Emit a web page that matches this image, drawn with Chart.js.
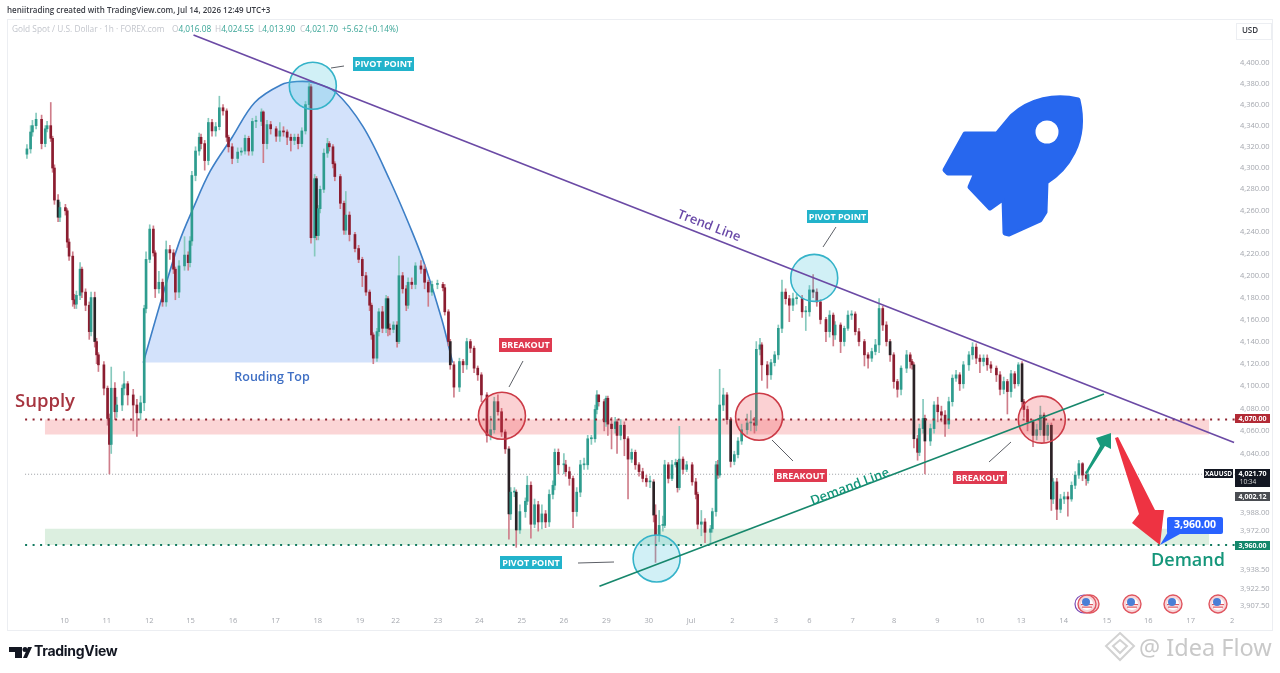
<!DOCTYPE html>
<html>
<head>
<meta charset="utf-8">
<title>XAUUSD</title>
<script src="https://cdn.jsdelivr.net/npm/chart.js@4"></script>
<style>
  html, body { margin: 0; background: #fff; }
  #wrap { position: relative; width: 1280px; height: 673px; overflow: hidden; font-family: "Open Sans", sans-serif; }
  #grafica { position: absolute; left: 0; top: 0; filter: blur(0.35px); }
  .txt { position: absolute; white-space: nowrap; }
</style>
</head>
<body>
<div id="wrap">
  <canvas id="grafica" width="1280" height="673"></canvas>
  <div class="txt" style="left:7px;top:4px;font-size:8px;font-weight:600;color:#3a3d45">heniitrading created with TradingView.com, Jul 14, 2026 12:49 UTC+3</div>
  <div class="txt" style="left:12px;top:23px;font-size:8.3px;color:#c2c5cc">Gold Spot / U.S. Dollar · 1h · FOREX.com</div>
  <div class="txt" style="left:172px;top:23px;font-size:8.3px;color:#c2c5cc">O<span style="color:#3aa597">4,016.08</span></div>
  <div class="txt" style="left:215px;top:23px;font-size:8.3px;color:#c2c5cc">H<span style="color:#3aa597">4,024.55</span></div>
  <div class="txt" style="left:258px;top:23px;font-size:8.3px;color:#c2c5cc">L<span style="color:#3aa597">4,013.90</span></div>
  <div class="txt" style="left:300px;top:23px;font-size:8.3px;color:#c2c5cc">C<span style="color:#3aa597">4,021.70</span></div>
  <div class="txt" style="left:342px;top:23px;font-size:8.3px;color:#3aa597">+5.62 (+0.14%)</div>
  <div class="txt" style="left:34px;top:642px;font-size:14px;font-weight:700;color:#131722;font-family:Inter,sans-serif;letter-spacing:-.3px">TradingView</div>
  <div class="txt" style="left:1139px;top:631px;font-size:23.5px;color:#c9c9c9;font-family:'Noto Sans',sans-serif">@ Idea Flow</div>
</div>
<script>
//Velas: numero de barra horaria y precios
const barNos = [
  1,3,4,6,9,11,12,14,15,16,18,19,22,23,24,26,27,28,30,31,
  33,35,36,38,39,40,43,45,46,47,49,50,53,54,56,59,61,63,65,66,
  68,70,71,73,75,77,79,81,82,84,87,89,90,91,93,95,96,98,100,102,
  104,106,108,110,111,113,116,118,120,122,124,126,129,130,132,134,137,139,141,143,
  145,147,149,151,153,155,156,158,159,160,161,163,165,166,168,169,172,174,175,177,
  180,182,184,186,188,189,190,192,193,195,197,198,199,201,203,204,206,208,209,211,
  213,216,218,220,222,225,228,229,231,232,234,237,239,241,243,245,247,249,252,254,
  256,258,260,262,264,265,267,268,270,273,274,276,278,280,282,284,286,288,289,291,
  294,295,297,299,301,303,305,307,309,311,312,313,316,317,318,320,322,323,325,327,
  329,331,333,335,337,339,341,343,344,346,348,349,351,353,355,356,357,359,361,364,
  366,367,369,371,374,375,377,378,379,381,383,385,387,389,391,394,396,398,399,401,
  402,405,407,409,411,413,415,417,419,421,424,426,428,430,432,434,437,439,441,442,
  445,447,449,451,453,455,458,460,462,464,466,468,470,472,474,476,478,481,483,484,
  485,487,488,490,491,494,496,498,500,502,504,506,508,510,512,515,517,519,521,523,
  525,527,530,532,534,536,538,540,542,544,545,547,550,552,554,556,558,560,561,563,
  565,567,569,571,573,575,577,579,580
];
const opens = [
  4313,4318,4334,4340,4346,4323,4337,4340,4328,4300,4270,4254,4263,4260,4231,4218,4178,4174,4182,4206,
  4185,4173,4149,4180,4140,4128,4119,4098,4071,4048,4098,4077,4083,4098,4102,4092,4083,4076,4085,4170,
  4215,4243,4221,4188,4194,4176,4224,4221,4206,4185,4209,4219,4212,4232,4293,4316,4329,4323,4307,4343,
  4335,4339,4357,4354,4329,4320,4309,4315,4316,4328,4316,4344,4344,4353,4323,4341,4337,4330,4335,4334,
  4329,4326,4329,4323,4335,4360,4377,4235,4290,4237,4262,4280,4314,4323,4320,4304,4292,4267,4242,4256,
  4238,4225,4215,4200,4185,4173,4146,4125,4149,4167,4152,4179,4152,4151,4155,4140,4200,4188,4173,4194,
  4192,4209,4206,4194,4185,4192,4192,4189,4167,4140,4119,4099,4122,4119,4140,4134,4116,4110,4092,4056,
  4061,4086,4077,4059,4044,3987,4006,4006,3973,3989,3998,4012,3978,3995,3980,3987,3980,4004,4012,4041,
  4030,4030,4024,4018,3989,4006,4030,4030,4053,4053,4079,4092,4086,4068,4089,4066,4062,4068,4056,4065,
  4053,4035,4041,4030,4024,4018,4015,4015,3986,3969,3977,3977,4030,4018,4030,4032,4010,4035,4026,4030,
  4015,4004,3978,3980,3971,3974,3989,4030,4021,4083,4092,4070,4033,4039,4051,4061,4067,4067,4065,4133,
  4137,4119,4110,4121,4128,4152,4185,4179,4173,4179,4179,4167,4167,4187,4185,4176,4160,4149,4164,4146,
  4155,4140,4152,4164,4165,4149,4140,4128,4125,4131,4137,4170,4155,4140,4128,4104,4097,4116,4128,4122,
  4119,4053,4041,4062,4071,4051,4062,4083,4077,4074,4066,4086,4107,4110,4102,4119,4128,4135,4125,4122,
  4125,4119,4116,4110,4097,4104,4095,4111,4102,4120,4086,4079,4068,4056,4061,4074,4056,4065,4000,4015,
  3991,4000,4002,4000,4012,4021,4031,4021,4016.08
];
const highs = [
  4322,4340,4345,4352,4350,4340,4344,4362,4330,4303,4275,4268,4266,4262,4234,4222,4183,4186,4212,4208,
  4188,4176,4185,4185,4143,4130,4122,4100,4075,4117,4103,4090,4101,4113,4104,4097,4088,4091,4173,4222,
  4247,4246,4223,4204,4197,4232,4228,4224,4208,4214,4236,4222,4236,4297,4320,4333,4332,4326,4347,4346,
  4343,4368,4360,4356,4331,4323,4319,4319,4331,4330,4347,4349,4356,4354,4345,4344,4339,4343,4339,4336,
  4332,4332,4332,4338,4363,4381,4379,4294,4292,4265,4283,4318,4328,4325,4322,4306,4294,4269,4278,4259,
  4240,4228,4217,4203,4187,4175,4148,4152,4170,4172,4182,4181,4156,4158,4158,4218,4203,4191,4198,4198,
  4212,4214,4210,4196,4195,4196,4194,4192,4169,4142,4122,4125,4124,4143,4142,4136,4118,4112,4094,4073,
  4090,4092,4080,4061,4046,4010,4010,4008,3995,4001,4020,4015,4000,3998,3995,3990,4008,4016,4044,4044,
  4040,4034,4028,4020,4010,4034,4036,4056,4056,4083,4096,4092,4088,4091,4091,4072,4072,4070,4070,4068,
  4055,4044,4043,4032,4027,4021,4020,4017,3995,3990,3985,4034,4032,4034,4035,4034,4064,4037,4033,4032,
  4018,4006,3990,3983,3977,3992,4033,4034,4115,4098,4094,4072,4042,4054,4066,4075,4078,4072,4140,4143,
  4139,4122,4124,4131,4155,4196,4188,4182,4184,4183,4182,4172,4191,4201,4188,4178,4162,4168,4166,4158,
  4157,4154,4168,4168,4167,4152,4142,4130,4134,4142,4179,4172,4158,4142,4130,4106,4118,4132,4130,4124,
  4121,4056,4066,4088,4074,4066,4086,4090,4082,4078,4090,4110,4114,4112,4122,4131,4139,4138,4128,4128,
  4128,4122,4118,4113,4108,4106,4114,4113,4121,4122,4088,4082,4070,4066,4082,4076,4067,4067,4018,4018,
  4004,4006,4006,4015,4024,4034,4032,4024,4024.55
];
const lows = [
  4309,4314,4330,4337,4318,4320,4334,4325,4296,4266,4250,4250,4256,4226,4214,4172,4170,4170,4178,4180,
  4168,4142,4145,4135,4120,4113,4092,4065,4022,4040,4070,4072,4078,4092,4083,4060,4055,4070,4078,4166,
  4212,4218,4180,4184,4172,4172,4215,4202,4178,4180,4205,4205,4208,4228,4288,4312,4318,4298,4303,4330,
  4330,4336,4350,4325,4315,4304,4305,4312,4313,4312,4312,4338,4340,4305,4318,4332,4325,4325,4330,4322,
  4316,4322,4318,4320,4332,4357,4230,4218,4233,4233,4258,4277,4310,4316,4300,4288,4262,4238,4238,4232,
  4222,4212,4190,4182,4168,4142,4120,4122,4145,4148,4148,4145,4146,4148,4135,4138,4184,4168,4170,4188,
  4188,4202,4188,4172,4182,4188,4186,4164,4136,4115,4090,4095,4112,4115,4130,4112,4105,4086,4050,4052,
  4058,4074,4055,4040,3965,3982,4002,3958,3970,3984,3995,3966,3975,3972,3974,3975,3976,4000,4008,4022,
  4022,4020,4012,3975,3985,4002,4026,4026,4048,4050,4075,4082,4060,4064,4056,4044,4058,4040,4052,4038,
  4000,4032,4026,4020,4015,4011,4010,3980,3945,3963,3972,3975,4014,4016,4028,4006,4008,4022,4024,4012,
  4000,3974,3968,3962,3960,3971,3985,4018,4019,4078,4066,4028,4030,4036,4048,4057,4060,4058,4060,4128,
  4105,4098,4106,4118,4124,4148,4174,4158,4168,4174,4162,4150,4163,4180,4172,4156,4140,4144,4136,4142,
  4130,4136,4150,4160,4146,4136,4118,4116,4122,4128,4130,4150,4136,4122,4098,4090,4092,4112,4116,4115,
  4045,4034,4038,4058,4022,4047,4058,4068,4068,4055,4062,4082,4104,4096,4098,4114,4124,4120,4112,4118,
  4114,4112,4104,4092,4093,4075,4090,4098,4100,4082,4072,4060,4046,4052,4056,4050,4052,3990,3996,3982,
  3988,3996,3985,3998,4009,4018,4016,4012,4013.9
];
const closes = [
  4318,4334,4340,4346,4323,4337,4340,4328,4300,4270,4254,4263,4260,4231,4218,4178,4174,4182,4206,4185,
  4173,4149,4180,4140,4128,4119,4098,4071,4048,4098,4077,4083,4098,4102,4092,4083,4076,4085,4170,4215,
  4243,4221,4188,4194,4176,4224,4221,4206,4185,4209,4219,4212,4232,4293,4316,4329,4323,4307,4343,4335,
  4339,4357,4354,4329,4320,4309,4315,4316,4328,4316,4344,4344,4353,4323,4341,4337,4330,4335,4334,4329,
  4326,4329,4323,4335,4360,4377,4235,4290,4237,4262,4280,4314,4323,4320,4304,4292,4267,4242,4256,4238,
  4225,4215,4200,4185,4173,4146,4125,4149,4167,4152,4179,4152,4151,4155,4140,4200,4188,4173,4194,4192,
  4209,4206,4194,4185,4192,4192,4189,4167,4140,4119,4099,4122,4119,4140,4134,4116,4110,4092,4056,4061,
  4086,4077,4059,4044,3987,4006,4006,3973,3989,3998,4012,3978,3995,3980,3987,3980,4004,4012,4041,4030,
  4030,4024,4018,3989,4006,4030,4030,4053,4053,4079,4092,4086,4068,4089,4066,4062,4068,4056,4065,4053,
  4035,4041,4030,4024,4018,4015,4015,3986,3969,3977,3977,4030,4018,4030,4032,4010,4035,4026,4030,4015,
  4004,3978,3980,3971,3974,3989,4030,4021,4083,4092,4070,4033,4039,4051,4061,4067,4067,4065,4133,4137,
  4119,4110,4121,4128,4152,4185,4179,4173,4179,4179,4167,4167,4187,4185,4176,4160,4149,4164,4146,4155,
  4140,4152,4164,4165,4149,4140,4128,4125,4131,4137,4170,4155,4140,4128,4104,4097,4116,4128,4122,4119,
  4053,4041,4062,4071,4051,4062,4083,4077,4074,4066,4086,4107,4110,4102,4119,4128,4135,4125,4122,4125,
  4119,4116,4110,4097,4104,4095,4111,4102,4119,4086,4079,4068,4056,4061,4074,4056,4065,4000,4015,3991,
  4000,4002,4000,4012,4021,4031,4021,4018,4021.7
];
//Velas con cuerpo casi negro
const darkBars = [18,38,47,68,73,120,126,155,159,175,198,203,232,264,268,317,343,356,374,385,430,447,472,485,491,544,550,556,560];

//Ejes
const priceTicks = [4400,4380,4360,4340,4320,4300,4280,4260,4240,4220,4200,4180,4160,4140,4120,4100,4080,4060,4040,3988,3972,3938.5,3922.5,3907.5];
const dayBars = [21.5,44.6,67.7,90.3,113.4,136.6,159.7,182.8,202.2,225.3,247.8,271,294,317.2,340.3,363.4,386,409.7,428,451.6,474.2,497.8,521,543.5,566.7,590.3,612.9,636,658.6];
const dayLabels = ['10','11','12','15','16','17','18','19','22','23','24','25','26','29','30','Jul','2','3','6','7','8','9','10','13','14','15','16','17','2'];

//Niveles y lineas dibujadas sobre el grafico
const supplyLevel = 4070;
const supplyFloor = 4056.7;
const demandLevel = 3960;
const demandCeil = 3974;
const lastPrice = 4021.7;
const trendLineBars = [91.9, 659.7];
const trendLinePrices = [4426.8, 4049.7];
const demandLineBars = [313.4, 588.7];
const demandLinePrices = [3924.5, 4092.9];
const topArcBars = [64.5,74.7,83.9,91.4,101,113,125.3,139.8,148.4,157.5,169.3,184.4,198.9,211.3,218.3,227.4,233.3];
const topArcPrices = [4121,4180,4230,4261,4297,4329,4362,4379,4382,4381,4372,4339,4289,4240,4209,4160,4121];
const pivotBars = [157, 430.6, 344.6];
const pivotPrices = [4378, 4198, 3948.3];
const breakoutBars = [260.2, 400.5, 554.8];
const breakoutPrices = [4073.4, 4072.5, 4070];

const UP = '#2e9c8e', DOWN = '#8b1d30', DARK = '#2b2226';
const WICK_UP = '#86c9bd', WICK_DOWN = '#cf7d8a';

function pts(xs, ys) { return xs.map((x, i) => ({ x: x, y: ys[i] })); }
function hline(bar0, bar1, y) { return [{ x: bar0, y: y }, { x: bar1, y: y }]; }
function bodyColor(i) {
  if (closes[i] >= opens[i]) return UP;
  return darkBars.includes(barNos[i]) ? DARK : DOWN;
}

//Etiquetas pequeñas
function tag(ctx, x0, y0, x1, y1, bg, text, size) {
  ctx.fillStyle = bg;
  ctx.fillRect(x0, y0, x1 - x0, y1 - y0);
  ctx.fillStyle = '#fff';
  ctx.font = '700 ' + (size || 9) + 'px "Open Sans"';
  ctx.textAlign = 'center';
  ctx.textBaseline = 'middle';
  ctx.fillText(text, (x0 + x1) / 2, (y0 + y1) / 2 + 0.5);
}
function label(ctx, text, x, y, font, color, angle) {
  ctx.save();
  ctx.translate(x, y);
  ctx.rotate((angle || 0) * Math.PI / 180);
  ctx.font = font;
  ctx.fillStyle = color;
  ctx.textAlign = 'center';
  ctx.textBaseline = 'middle';
  ctx.fillText(text, 0, 0);
  ctx.restore();
}
function poly(ctx, points, color) {
  ctx.beginPath();
  points.forEach((p, i) => i ? ctx.lineTo(p[0], p[1]) : ctx.moveTo(p[0], p[1]));
  ctx.closePath();
  ctx.fillStyle = color;
  ctx.fill();
}
function rocket(ctx) {
  ctx.save();
  ctx.beginPath();
  ctx.moveTo(1078, 100);
  ctx.bezierCurveTo(1055, 94, 1030, 100, 1012, 116);
  ctx.lineTo(997, 134);
  ctx.lineTo(965, 134);
  ctx.lineTo(945, 170);
  ctx.lineTo(948, 173);
  ctx.lineTo(976, 173);
  ctx.lineTo(970, 187);
  ctx.lineTo(990, 208);
  ctx.lineTo(1004, 198);
  ctx.lineTo(1005, 233);
  ctx.lineTo(1009, 234);
  ctx.lineTo(1040, 220);
  ctx.lineTo(1045, 212);
  ctx.lineTo(1046, 182);
  ctx.bezierCurveTo(1066, 170, 1088, 142, 1078, 100);
  ctx.closePath();
  ctx.fillStyle = '#2767ee';
  ctx.strokeStyle = '#2767ee';
  ctx.lineWidth = 5;
  ctx.lineJoin = 'round';
  ctx.stroke();
  ctx.fill();
  ctx.beginPath();
  ctx.arc(1047, 132, 11.5, 0, Math.PI * 2);
  ctx.fillStyle = '#fff';
  ctx.fill();
  ctx.restore();
}
function flagIcon(ctx, x, y) {
  ctx.beginPath(); ctx.arc(x, y, 9, 0, Math.PI * 2);
  ctx.fillStyle = '#f6d5d8'; ctx.fill();
  ctx.lineWidth = 1.4; ctx.strokeStyle = '#e0555f'; ctx.stroke();
  ctx.beginPath(); ctx.arc(x, y, 6, 0, Math.PI * 2);
  ctx.fillStyle = '#fff'; ctx.fill();
  ctx.fillStyle = '#e0555f';
  ctx.fillRect(x - 6, y, 12, 1.2);
  ctx.fillRect(x - 5, y + 2.5, 10, 1.2);
  ctx.beginPath(); ctx.arc(x - 1, y - 2, 4, 0, Math.PI * 2);
  ctx.fillStyle = '#4a7fd6'; ctx.fill();
}

//Todo lo que va encima de las velas
const dibujos = {
  id: 'dibujos',
  afterDraw(chart) {
    const ctx = chart.ctx;
    ctx.save();
    ctx.strokeStyle = '#eceef2';
    ctx.lineWidth = 1;
    ctx.strokeRect(7.5, 19.5, 1265, 611);
    ctx.strokeRect(1236.5, 23.5, 35, 16);
    label(ctx, 'USD', 1250, 31, '600 8px "Open Sans"', '#3a3d45');

    tag(ctx, 353, 57, 414, 71, '#22b3cb', 'PIVOT POINT');
    tag(ctx, 807, 210, 868, 223, '#22b3cb', 'PIVOT POINT');
    tag(ctx, 500, 556, 562, 569, '#22b3cb', 'PIVOT POINT');
    tag(ctx, 499, 338, 552, 352, '#df3a50', 'BREAKOUT');
    tag(ctx, 774, 469, 827, 482, '#df3a50', 'BREAKOUT');
    tag(ctx, 953, 471, 1007, 484, '#df3a50', 'BREAKOUT');

    ctx.strokeStyle = '#5c5f66';
    ctx.lineWidth = 1;
    [[331,68,344,66],[523,361,509,387],[578,563,614,562],[772,440,793,461],[836,227,823,247],[1011,442,989,462]].forEach(l => {
      ctx.beginPath(); ctx.moveTo(l[0], l[1]); ctx.lineTo(l[2], l[3]); ctx.stroke();
    });

    label(ctx, 'Supply', 45, 402, '600 18.5px "Open Sans"', '#a6343f');
    label(ctx, 'Demand', 1188, 561, '600 18px "Open Sans"', '#14967a');
    label(ctx, 'Rouding Top', 272, 377, '600 12.5px "Open Sans"', '#3f6fc4');
    label(ctx, 'Trend Line', 709, 226, '600 13px "Open Sans"', '#6a4aa8', 21.2);
    label(ctx, 'Demand Line', 850, 487, '600 13px "Open Sans"', '#14967a', -20.8);

    rocket(ctx);

    //Flechas
    poly(ctx, [[1085,473],[1100,446],[1096,438],[1111,433],[1111,449],[1105,446],[1087,474]], '#189a7c');
    poly(ctx, [[1115,438],[1118,437],[1155,510],[1164,510],[1160,545],[1132,523],[1139,514]], '#ee3342');

    //Precio objetivo
    ctx.fillStyle = '#2962ff';
    ctx.beginPath(); ctx.roundRect(1167, 517, 56, 17, 2); ctx.fill();
    poly(ctx, [[1168,532],[1180,534],[1160,545]], '#2962ff');
    label(ctx, '3,960.00', 1195, 525.5, '700 10.5px "Open Sans"', '#fff');

    //Etiquetas del eje de precios
    tag(ctx, 1235, 414, 1270, 423, '#b22a35', '4,070.00', 7);
    tag(ctx, 1204, 469, 1233, 478, '#131722', 'XAUUSD', 6.5);
    ctx.fillStyle = '#131722';
    ctx.fillRect(1235, 469, 35, 18);
    label(ctx, '4,021.70', 1252.5, 474, '700 7px "Open Sans"', '#fff');
    label(ctx, '10:34', 1248, 482.5, '400 6.5px "Open Sans"', '#d8d8d8');
    tag(ctx, 1235, 492, 1270, 501, '#4a4d52', '4,002.12', 7);
    tag(ctx, 1235, 541, 1270, 550, '#14876b', '3,960.00', 7);

    //Iconos de noticias
    ctx.beginPath(); ctx.arc(1084, 604, 9, 0, Math.PI * 2);
    ctx.strokeStyle = '#7b4bb5'; ctx.lineWidth = 1.2; ctx.stroke();
    flagIcon(ctx, 1090, 604);
    flagIcon(ctx, 1087, 604);
    flagIcon(ctx, 1132, 604);
    flagIcon(ctx, 1173, 604);
    flagIcon(ctx, 1218, 604);

    //Logo TradingView
    poly(ctx, [[9,647],[22,647],[22,658],[15,658],[15,652],[9,652]], '#131722');
    ctx.beginPath(); ctx.arc(25, 649.5, 2.5, 0, Math.PI * 2); ctx.fillStyle = '#131722'; ctx.fill();
    poly(ctx, [[23,658],[28,647],[32,647],[27,658]], '#131722');

    //Marca de agua
    ctx.strokeStyle = '#d2d2d2';
    ctx.lineWidth = 2;
    poly(ctx, [[1120,633],[1134,646],[1120,660],[1106,646]], 'rgba(0,0,0,0)');
    ctx.stroke();
    poly(ctx, [[1120,640],[1127,646],[1120,653],[1113,646]], 'rgba(0,0,0,0)');
    ctx.stroke();
    ctx.restore();
  }
};

const grafica = document.getElementById('grafica');
new Chart(grafica, {
  type: 'bar',
  data: {
    datasets: [
      { type: 'line', data: hline(10.75, 646.2, supplyLevel), fill: { value: supplyFloor }, backgroundColor: '#fbd5d6', borderWidth: 0, pointRadius: 0, order: 9 },
      { type: 'line', data: hline(10.75, 646.2, demandLevel), fill: { value: demandCeil }, backgroundColor: '#dcefe0', borderWidth: 0, pointRadius: 0, order: 9 },
      { type: 'line', data: pts(topArcBars, topArcPrices), fill: { value: 4121 }, backgroundColor: '#d3e2fb', borderColor: '#3d7fc6', borderWidth: 1.6, tension: 0.35, pointRadius: 0, order: 8 },
      { data: barNos.map((b, i) => ({ x: b, y: [lows[i], highs[i]] })), grouped: false, barThickness: 1, minBarLength: 1, backgroundColor: barNos.map((b, i) => closes[i] >= opens[i] ? WICK_UP : WICK_DOWN), order: 6 },
      { data: barNos.map((b, i) => ({ x: b, y: [opens[i], closes[i]] })), grouped: false, barThickness: 2, minBarLength: 1, backgroundColor: barNos.map((b, i) => bodyColor(i)), order: 5 },
      { type: 'line', data: hline(0, 660, lastPrice), borderColor: '#9a9da3', borderWidth: 1, borderDash: [1, 2], pointRadius: 0, order: 7 },
      { type: 'line', data: hline(0, 660, supplyLevel), borderColor: '#8f2430', borderWidth: 2, borderDash: [2, 5.5], pointRadius: 0, order: 4 },
      { type: 'line', data: hline(0, 660, demandLevel), borderColor: '#127a60', borderWidth: 2, borderDash: [2, 5.5], pointRadius: 0, order: 4 },
      { type: 'line', data: pts(pivotBars, pivotPrices), showLine: false, pointRadius: 23.5, pointBackgroundColor: 'rgba(70,195,220,.25)', pointBorderColor: '#35b3c9', pointBorderWidth: 1.6, order: 3 },
      { type: 'line', data: pts(breakoutBars, breakoutPrices), showLine: false, pointRadius: 23.5, pointBackgroundColor: 'rgba(238,70,80,.25)', pointBorderColor: '#cc3b47', pointBorderWidth: 1.6, order: 3 },
      { type: 'line', data: pts(trendLineBars, trendLinePrices), borderColor: '#6b4aa5', borderWidth: 1.7, pointRadius: 0, order: 2 },
      { type: 'line', data: pts(demandLineBars, demandLinePrices), borderColor: '#17876c', borderWidth: 1.7, pointRadius: 0, order: 2 }
    ]
  },
  options: {
    responsive: false,
    animation: false,
    events: [],
    layout: { padding: { left: 7, top: 20, right: 0, bottom: 0 } },
    plugins: { legend: { display: false }, tooltip: { enabled: false } },
    scales: {
      x: {
        type: 'linear',
        offset: false,
        min: 0,
        max: 660.75,
        grid: { display: false, drawTicks: false },
        border: { display: false },
        afterFit(scale) { scale.height = 62; scale.paddingLeft = 0; scale.paddingRight = 0; },
        afterBuildTicks(scale) { scale.ticks = dayBars.map(v => ({ value: v })); },
        ticks: {
          autoSkip: false,
          maxRotation: 0,
          padding: 5,
          color: '#a4a7ae',
          font: { family: 'Open Sans', size: 7.5 },
          callback: v => dayLabels[dayBars.indexOf(v)]
        }
      },
      y: {
        type: 'logarithmic',
        position: 'right',
        min: 3903.3,
        max: 4436.4,
        grid: { display: false, drawTicks: false },
        border: { display: false },
        afterFit(scale) { scale.width = 44; scale.paddingTop = 0; scale.paddingBottom = 0; },
        afterBuildTicks(scale) { scale.ticks = priceTicks.map(v => ({ value: v })); },
        ticks: {
          autoSkip: false,
          padding: 4,
          color: '#a4a7ae',
          font: { family: 'Open Sans', size: 7.5 },
          callback: v => Number(v).toLocaleString('en-US', { minimumFractionDigits: 2, maximumFractionDigits: 2 })
        }
      }
    }
  },
  plugins: [dibujos]
});
</script>
</body>
</html>
